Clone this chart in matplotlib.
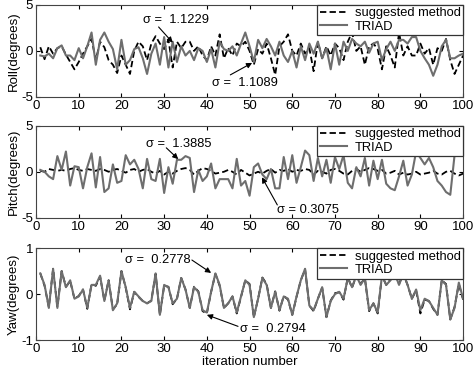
import matplotlib
matplotlib.use("Agg")
import matplotlib.pyplot as plt
import numpy as np

plt.rcParams['font.family'] = ['Liberation Sans', 'DejaVu Sans']
plt.rcParams['axes.unicode_minus'] = False

iterations = list(range(1, 101))

roll_triad = [-0.5, -0.6, -0.3, -0.8, 0.3, 0.6, -0.5, -0.5, -1.0, 0.3,
              -0.8, 0.5, 2.0, -1.5, 1.2, 2.0, 1.0, 0.2, -2.0, 1.2,
              -1.5, -1.0, 0.2, 0.4, -0.8, -2.5, -0.3, 0.8, -1.5, 1.5,
              -1.8, 1.0, -1.2, 0.5, -0.5, 0.0, -1.0, 0.3, 0.0, -1.2,
              0.2, -1.8, 1.0, 0.2, 0.0, 0.5, -0.5, 0.8, 2.0, 0.5,
              -1.2, 1.2, 0.3, 1.3, 0.5, -0.5, 1.0, -0.5, -1.2, 0.0,
              -1.8, 0.5, -1.0, 0.8, -0.3, 1.0, -0.8, 0.3, -2.0, 0.8,
              -1.5, 1.0, 0.0, 1.3, 0.8, 0.5, 1.0, -0.2, 0.8, 1.0,
              -1.0, 0.2, 1.0, 0.0, 1.2, 1.2, 0.8, 1.5, 1.5, 0.0,
              -0.8, -1.5, -2.7, -1.5, 0.5, 1.2, -0.8, -0.8, -0.5, -0.3]
roll_suggested = [0.4, -0.9, 0.5, -0.3, 0.3, 0.5, -0.4, -1.2, -2.0, -1.2,
                  -0.3, 0.5, 1.3, -1.0, 1.0, 0.4, -1.0, -1.5, -2.4, -0.5,
                  -1.5, -2.5, 0.0, 1.0, 0.5, -1.0, 0.8, 1.6, 0.8, 0.2,
                  1.2, -1.8, 1.0, 0.3, 1.0, 1.0, 0.0, 0.5, -0.5, -1.0,
                  0.5, -0.5, 1.8, -0.8, 0.3, -0.5, 0.8, 0.5, 1.0, 0.0,
                  -1.5, 0.2, -0.3, 0.8, -0.8, -2.6, 0.5, 1.0, 1.8, 0.0,
                  -0.5, 0.8, -0.3, 0.3, -2.2, 1.0, -0.8, 0.5, -0.5, 0.8,
                  0.3, -1.0, 1.0, 2.0, 0.0, 0.5, -1.5, 0.5, 0.8, 0.2,
                  -2.0, 0.5, -0.5, -1.8, 2.0, -0.5, 0.5, -0.5, -0.5, 0.8,
                  -0.3, 0.3, -1.5, 0.3, 0.0, 1.3, -1.0, -2.5, -1.5, -0.5]

pitch_triad = [0.2, 0.0, -0.5, -0.8, 1.7, 0.2, 2.2, -1.5, 0.6, 0.5,
               -1.8, 0.5, 2.0, -1.7, 1.6, -2.2, -1.8, 0.8, -1.2, -1.0,
               1.8, 0.8, 1.3, 0.3, -1.8, 1.4, -0.8, -1.0, 1.4, -2.3,
               0.5, -1.3, 1.3, 1.3, 1.7, 1.5, -2.2, 0.2, -1.0, -0.5,
               0.9, -1.8, -0.8, -0.8, -0.8, -1.8, 1.4, -1.5, -1.0, -2.6,
               0.5, 0.9, -0.3, -0.8, 0.3, -1.8, -1.8, 1.6, -0.8, 1.8,
               -1.2, 0.5, 2.3, 1.8, -1.0, 1.5, -0.5, 1.3, -1.2, 1.6,
               0.3, 1.8, -1.2, -1.8, 0.5, -0.5, 1.5, -1.5, 1.2, -0.8,
               1.3, -1.3, -1.8, -2.0, -0.5, 1.2, -1.5, -0.3, 2.2, 1.5,
               0.8, 1.5, 0.5, -1.0, -1.5, -2.2, -2.5, 1.8, 2.0, 2.2]
pitch_suggested = [0.1, 0.0, 0.3, 0.2, 0.1, 0.2, 0.1, 0.3, 0.4, 0.2,
                   0.1, 0.3, 0.2, 0.1, 0.3, 0.2, 0.0, 0.2, 0.3, 0.1,
                   -0.1, 0.2, 0.3, 0.0, 0.2, 0.3, 0.0, -0.2, 0.1, -0.3,
                   0.0, -0.2, 0.1, 0.3, 0.4, 0.2, -0.3, 0.1, 0.4, 0.3,
                   0.1, -0.2, -0.1, 0.0, 0.2, 0.0, -0.3, 0.2, -0.1, -0.4,
                   -0.2, 0.0, -0.2, 0.1, 0.3, -0.1, 0.2, 0.1, 0.3, 0.0,
                   0.2, 0.1, 0.3, 0.2, -0.3, 0.1, 0.0, -0.2, 0.2, 0.3,
                   0.1, -0.2, -0.3, 0.1, 0.3, 0.0, 0.2, 0.4, 0.3, 0.1,
                   0.2, -0.2, -0.1, 0.1, -0.3, -0.1, -0.3, -0.2, 0.0, -0.3,
                   -0.2, -0.1, 0.1, -0.2, -0.3, 0.0, 0.1, -0.2, -0.4, -0.2]

yaw_triad = [0.45, 0.2, -0.3, 0.55, -0.3, 0.5, 0.15, 0.3, -0.1, -0.05,
             0.1, -0.3, 0.2, 0.2, 0.4, -0.15, 0.3, -0.35, -0.2, 0.5,
             0.15, -0.3, 0.05, -0.05, -0.15, -0.2, -0.15, 0.45, -0.45, 0.2,
             0.15, -0.2, -0.1, 0.35, 0.1, -0.3, 0.15, 0.05, -0.35, -0.4,
             0.05, 0.45, 0.2, -0.3, -0.2, -0.05, -0.4, -0.05, 0.3, 0.2,
             -0.5, -0.1, 0.35, 0.2, -0.3, 0.05, -0.35, -0.05, -0.1, -0.45,
             -0.05, 0.3, 0.55, -0.25, -0.35, -0.1, 0.15, -0.5, -0.15, 0.0,
             0.05, -0.1, 0.35, 0.15, 0.4, 0.2, 0.35, -0.35, -0.2, -0.4,
             0.4, 0.2, 0.3, 0.45, 0.2, 0.45, 0.2, -0.1, 0.1, -0.35,
             -0.1, -0.15, -0.3, -0.45, 0.3, 0.2, -0.55, -0.3, 0.25, -0.1]
yaw_suggested = [0.45, 0.18, -0.28, 0.55, -0.28, 0.5, 0.16, 0.28, -0.1, -0.04,
                 0.1, -0.32, 0.22, 0.18, 0.38, -0.14, 0.3, -0.33, -0.22, 0.5,
                 0.14, -0.33, 0.05, -0.06, -0.15, -0.2, -0.14, 0.44, -0.45, 0.18,
                 0.16, -0.22, -0.1, 0.35, 0.1, -0.3, 0.16, 0.06, -0.37, -0.42,
                 0.05, 0.44, 0.18, -0.3, -0.2, -0.05, -0.42, -0.06, 0.3, 0.22,
                 -0.5, -0.1, 0.36, 0.22, -0.3, 0.06, -0.36, -0.04, -0.12, -0.45,
                 -0.06, 0.3, 0.54, -0.25, -0.37, -0.1, 0.14, -0.5, -0.14, 0.02,
                 0.04, -0.12, 0.36, 0.14, 0.4, 0.22, 0.34, -0.37, -0.2, -0.42,
                 0.4, 0.2, 0.32, 0.44, 0.22, 0.44, 0.2, -0.1, 0.08, -0.42,
                 -0.12, -0.15, -0.32, -0.45, 0.3, 0.22, -0.55, -0.28, 0.22, -0.12]

ylabels = ["Roll(degrees)", "Pitch(degrees)", "Yaw(degrees)"]
legend_labels = ["suggested method", "TRIAD"]

fig = plt.figure(figsize=(4.74, 3.73), dpi=100)
left, width = 0.076, 0.901
bottoms = [0.740, 0.416, 0.088]
height = 0.247

series = [(roll_suggested, roll_triad, 5, [-5, 0, 5]),
          (pitch_suggested, pitch_triad, 5, [-5, 0, 5]),
          (yaw_suggested, yaw_triad, 1, [-1, 0, 1])]

annots = [
    [("\u03c3 =  1.1229", (25, 3.4), (32, 0.9), (28.7, 2.6)),
     ("\u03c3 =  1.1089", (41.2, -3.5), (50.6, -1.3), (45.5, -2.6))],
    [("\u03c3 =  1.3885", (25.8, 3.0), (33.3, 1.37), (30.5, 2.6)),
     ("\u03c3 = 0.3075", (56.4, -4.1), (52.9, -0.6), (56.5, -3.6))],
    [("\u03c3 =  0.2778", (20.8, 0.74), (41, 0.46), (36.5, 0.74)),
     ("\u03c3 =  0.2794", (47.8, -0.76), (40, -0.45), (47.3, -0.7))],
]

fs = 9.5
fs_small = 9.3
for k, (sug, tri, lim, ticks) in enumerate(series):
    ax = fig.add_axes([left, bottoms[k], width, height])
    ax.plot(iterations, sug, color='black', lw=1.3, ls=(0, (3.5, 1.8)), label=legend_labels[0], zorder=2)
    ax.plot(iterations, tri, color='#6e6e6e', lw=1.5, label=legend_labels[1], zorder=3)
    ax.set_xlim(0, 100)
    ax.set_ylim(-lim, lim)
    ax.set_yticks(ticks)
    ax.set_xticks(range(0, 101, 10))
    ax.tick_params(direction='in', top=True, right=True, labelsize=fs, length=3, pad=2)
    ax.set_ylabel(ylabels[k], fontsize=fs, labelpad=1)
    for sp in ax.spines.values():
        sp.set_color('#444444')
    leg = ax.legend(loc='upper right', fontsize=fs_small,
                    frameon=True, fancybox=False, framealpha=1.0, borderaxespad=0.0,
                    handlelength=2.1, handletextpad=0.6, labelspacing=0.1,
                    borderpad=0.2)
    leg.set_zorder(10)
    leg.get_frame().set_edgecolor('#333333')
    leg.get_frame().set_linewidth(0.9)
    for txt, tpos, apt, astart in annots[k]:
        ax.text(tpos[0], tpos[1], txt, fontsize=fs_small, ha='left', va='center', zorder=5)
        ax.annotate("", xy=apt, xytext=astart,
                    arrowprops=dict(arrowstyle='-|>', color='black', lw=0.8,
                                    mutation_scale=8, shrinkA=0, shrinkB=0), zorder=5)
    if k == 2:
        ax.set_xlabel("iteration number", fontsize=fs, labelpad=1)

fig.savefig("out.png", dpi=100)
